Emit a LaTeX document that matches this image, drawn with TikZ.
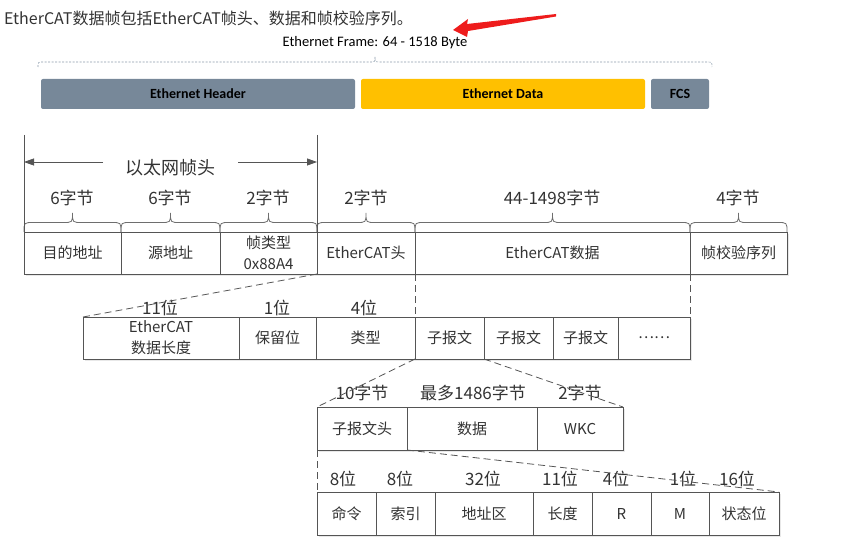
\documentclass[tikz,border=0pt]{standalone}
\usepackage{fontspec}
\setmainfont{Carlito}
\newfontfamily\cjk{Noto Sans CJK SC}
\usetikzlibrary{arrows.meta,calc,shadows}
\definecolor{hdrgray}{HTML}{778899}
\definecolor{datayel}{HTML}{FFC000}
\definecolor{linegray}{HTML}{555555}
\definecolor{txtgray}{HTML}{333333}
\definecolor{bracegray}{HTML}{8A9AAA}
\definecolor{arrred}{HTML}{EE1C1C}
\tikzset{
  field/.style={draw=linegray, line width=0.8pt, fill=white, inner sep=0pt, outer sep=0pt,
    text=txtgray, align=center, font=\cjk\fontsize{15}{21}\selectfont,
    drop shadow={shadow xshift=1.5pt, shadow yshift=-1.5pt, fill=black!18}},
  sizelbl/.style={inner sep=0pt, text=txtgray, font=\cjk\fontsize{17}{19}\selectfont},
  bar/.style={rounded corners=2pt, inner sep=0pt, minimum height=30pt, font=\bfseries\fontsize{14}{16}\selectfont},
  split/.style={draw=linegray, line width=0.8pt, dash pattern=on 7pt off 4pt},
  sizebr/.style={draw=linegray!85, line width=0.8pt},
  topbr/.style={draw=bracegray, line width=0.6pt, dash pattern=on 2pt off 1.5pt},
  hdrarrow/.style={draw=linegray, line width=0.8pt, -{Triangle[length=10pt,width=7pt]}},
}
\newcommand{\sizebrace}[4][sizebr]{%
  \path (#2) -- (#3) coordinate[pos=.5] (bmid);
  \draw[#1] (#2) .. controls ($(#2)+(0,-#4)$) .. ($(#2)+(#4,-#4)$)
    -- ($(bmid)+(-#4,-#4)$) .. controls ($(bmid)+(0,-#4)$) .. ($(bmid)+(0,-2*#4)$)
    .. controls ($(bmid)+(0,-#4)$) .. ($(bmid)+(#4,-#4)$)
    -- ($(#3)+(-#4,-#4)$) .. controls ($(#3)+(0,-#4)$) .. (#3);}
\begin{document}
\begin{tikzpicture}[x=1pt,y=-1pt]
\useasboundingbox (0,0) rectangle (842,545);
\node[anchor=west, inner sep=0pt, text=txtgray, font=\cjk\fontsize{16}{18}\selectfont] (intro) at (4,18) {EtherCAT数据帧包括EtherCAT帧头、数据和帧校验序列。};
\fill[arrred] (453,30) -- (468,19) -- (467,24) -- (556,14) -- (556,16.5) -- (468,31) -- (467,37) -- cycle;
\node[inner sep=0pt, font=\fontsize{14.5}{16}\selectfont] (frame) at (375,43) {Ethernet Frame: 64 - 1518 Byte};
\coordinate (frl) at (38,67);
\coordinate (frr) at (712,67);
\sizebrace[topbr]{frl}{frr}{5}
\node[bar, fill=hdrgray, minimum width=314pt] (ehdr) at (198,94) {Ethernet Header};
\node[bar, fill=datayel, minimum width=284pt] (edat) at (503,94) {Ethernet Data};
\node[bar, fill=hdrgray, minimum width=58pt] (efcs) at (680,94) {FCS};

\node[field, minimum width=97pt, minimum height=42pt] (dst) at (72.5,253) {目的地址};
\node[field, minimum width=99pt, minimum height=42pt] (src) at (170.5,253) {源地址};
\node[field, minimum width=97pt, minimum height=42pt] (type) at (268.5,253) {帧类型\\0x88A4};
\node[field, minimum width=98pt, minimum height=42pt] (echd) at (366,253) {EtherCAT头};
\node[field, minimum width=275pt, minimum height=42pt] (edata) at (552.5,253) {EtherCAT数据};
\node[field, minimum width=97pt, minimum height=42pt] (fcs) at (738.5,253) {帧校验序列};
\node[sizelbl] (l1a) at (72,198) {6字节};
\node[sizelbl] (l1b) at (170,198) {6字节};
\node[sizelbl] (l1c) at (268,198) {2字节};
\node[sizelbl] (l1d) at (366,198) {2字节};
\node[sizelbl] (l1e) at (552,198) {44-1498字节};
\node[sizelbl] (l1f) at (738,198) {4字节};
\sizebrace{dst.north west}{dst.north east}{9.5}
\sizebrace{src.north west}{src.north east}{9.5}
\sizebrace{type.north west}{type.north east}{9.5}
\sizebrace{echd.north west}{echd.north east}{9.5}
\sizebrace{edata.north west}{edata.north east}{9.5}
\sizebrace{fcs.north west}{fcs.north east}{9.5}

\coordinate (hl) at (24,135);
\coordinate (hr) at (317,135);
\draw[linegray, line width=0.8pt] (hl) -- (dst.north west);
\draw[linegray, line width=0.8pt] (hr) -- (type.north east);
\node[inner sep=0pt, text=txtgray, font=\cjk\fontsize{18}{20}\selectfont] (ethlbl) at (170,168) {以太网帧头};
\coordinate (al) at (103,162);
\coordinate (ar) at (238,162);
\draw[hdrarrow] (al) -- (al -| hl);
\draw[hdrarrow] (ar) -- (ar -| hr);

\node[field, minimum width=156pt, minimum height=42pt] (len) at (161,338) {EtherCAT\\数据长度};
\node[field, minimum width=77pt, minimum height=42pt] (rsv) at (277.5,338) {保留位};
\node[field, minimum width=99pt, minimum height=42pt] (typ) at (365.5,338) {类型};
\node[field, minimum width=69pt, minimum height=42pt] (sub1) at (449.5,338) {子报文};
\node[field, minimum width=69pt, minimum height=42pt] (sub2) at (518.5,338) {子报文};
\node[field, minimum width=65pt, minimum height=42pt] (sub3) at (585.5,338) {子报文};
\node[field, minimum width=72pt, minimum height=42pt] (more) at (654,338) {……};
\node[sizelbl] (l2a) at (160,308) {11位};
\node[sizelbl] (l2b) at (277,308) {1位};
\node[sizelbl] (l2c) at (364,308) {4位};
\draw[split] (type.south east) -- (len.north west);
\draw[split] (echd.south east) -- (sub1.north west);
\draw[split] (edata.south east) -- (more.north east);

\node[field, minimum width=90pt, minimum height=43pt] (dhd) at (362,428.5) {子报文头};
\node[field, minimum width=130pt, minimum height=43pt] (dd) at (472,428.5) {数据};
\node[field, minimum width=86pt, minimum height=43pt] (wkc) at (580,428.5) {WKC};
\node[sizelbl] (l3a) at (362,393) {10字节};
\node[sizelbl] (l3b) at (473,393) {最多1486字节};
\node[sizelbl] (l3c) at (580,393) {2字节};
\draw[split] (typ.south east) -- (dhd.north west);
\draw[split] (sub1.south east) -- (wkc.north east);

\node[field, minimum width=59pt, minimum height=43pt] (cmd) at (346.5,513.5) {命令};
\node[field, minimum width=59pt, minimum height=43pt] (idx) at (405.5,513.5) {索引};
\node[field, minimum width=98pt, minimum height=43pt] (adr) at (484,513.5) {地址区};
\node[field, minimum width=59pt, minimum height=43pt] (dlen) at (562.5,513.5) {长度};
\node[field, minimum width=59pt, minimum height=43pt] (rbit) at (621.5,513.5) {R};
\node[field, minimum width=58pt, minimum height=43pt] (mbit) at (680,513.5) {M};
\node[field, minimum width=70pt, minimum height=43pt] (stat) at (744,513.5) {状态位};
\node[sizelbl] (l4a) at (343,479) {8位};
\node[sizelbl] (l4b) at (400,479) {8位};
\node[sizelbl] (l4c) at (483,479) {32位};
\node[sizelbl] (l4d) at (560,479) {11位};
\node[sizelbl] (l4e) at (616,479) {4位};
\node[sizelbl] (l4f) at (683,479) {1位};
\node[sizelbl] (l4g) at (737,479) {16位};
\draw[split] (dhd.south west) -- (cmd.north west);
\draw[split] (dhd.south east) -- (stat.north east);
\end{tikzpicture}
\end{document}
